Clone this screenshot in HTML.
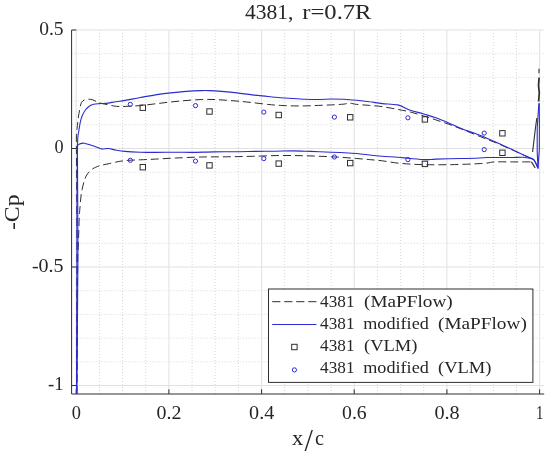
<!DOCTYPE html>
<html><head><meta charset="utf-8"><title>4381, r=0.7R</title>
<style>html,body{margin:0;padding:0;background:#fff}svg{display:block}text{font-family:"Liberation Serif",serif;fill:#262626}</style></head><body>
<svg width="550" height="454" viewBox="0 0 550 454">
<rect width="550" height="454" fill="#fff"/>
<g stroke="#d6d6d6" stroke-width="1" stroke-dasharray="1 2" fill="none">
<path d="M99.4 30.0V394.0"/>
<path d="M122.5 30.0V394.0"/>
<path d="M145.7 30.0V394.0"/>
<path d="M192.1 30.0V394.0"/>
<path d="M215.2 30.0V394.0"/>
<path d="M238.4 30.0V394.0"/>
<path d="M284.7 30.0V394.0"/>
<path d="M307.9 30.0V394.0"/>
<path d="M331.1 30.0V394.0"/>
<path d="M377.4 30.0V394.0"/>
<path d="M400.6 30.0V394.0"/>
<path d="M423.7 30.0V394.0"/>
<path d="M470.1 30.0V394.0"/>
<path d="M493.3 30.0V394.0"/>
<path d="M516.4 30.0V394.0"/>
<path d="M71.6 361.8H544.2"/>
<path d="M71.6 338.1H544.2"/>
<path d="M71.6 314.4H544.2"/>
<path d="M71.6 290.7H544.2"/>
<path d="M71.6 243.3H544.2"/>
<path d="M71.6 219.6H544.2"/>
<path d="M71.6 195.9H544.2"/>
<path d="M71.6 172.2H544.2"/>
<path d="M71.6 124.8H544.2"/>
<path d="M71.6 101.1H544.2"/>
<path d="M71.6 77.4H544.2"/>
<path d="M71.6 53.7H544.2"/>
</g>
<g stroke="#e1e1e1" stroke-width="1" fill="none">
<path d="M76.2 30.0V394.0"/>
<path d="M168.9 30.0V394.0"/>
<path d="M261.6 30.0V394.0"/>
<path d="M354.2 30.0V394.0"/>
<path d="M446.9 30.0V394.0"/>
<path d="M539.6 30.0V394.0"/>
<path d="M71.6 30.0H544.2"/>
<path d="M71.6 148.5H544.2"/>
<path d="M71.6 267.0H544.2"/>
<path d="M71.6 385.5H544.2"/>
</g>
<g stroke="#2e2e2e" stroke-width="1" fill="none">
<path d="M71.6 30.0V394.0H544.2"/>
<path d="M76.2 394.0v-4.7"/>
<path d="M168.9 394.0v-4.7"/>
<path d="M261.6 394.0v-4.7"/>
<path d="M354.2 394.0v-4.7"/>
<path d="M446.9 394.0v-4.7"/>
<path d="M539.6 394.0v-4.7"/>
<path d="M71.6 30.0h4.7"/>
<path d="M71.6 148.5h4.7"/>
<path d="M71.6 267.0h4.7"/>
<path d="M71.6 385.5h4.7"/>
</g>
<g fill="none" stroke-linejoin="round">
<path d="M76.7 394.0 C76.7 378.3 76.9 324.0 76.9 300.0 C77.0 276.0 77.0 266.7 77.0 250.0 C77.0 233.3 76.9 218.7 76.8 200.0 C76.7 181.3 76.4 149.9 76.4 138.0 C76.5 126.1 76.8 132.0 77.1 128.5 C77.4 125.0 77.9 120.5 78.4 117.0 C78.9 113.5 79.6 110.0 80.1 107.5 C80.6 105.0 80.8 103.6 81.6 102.3 C82.4 101.0 83.6 100.3 84.8 99.8 C86.0 99.3 87.3 99.2 88.6 99.2 C89.9 99.2 91.1 99.4 92.5 99.8 C93.9 100.2 95.3 101.1 96.9 101.7 C98.5 102.3 100.3 103.1 102.0 103.6 C103.7 104.1 105.2 104.1 107.1 104.5 C109.0 104.9 111.4 105.6 113.5 105.9 C115.6 106.2 117.3 106.5 119.9 106.6 C122.5 106.6 125.5 106.4 128.9 106.2 C132.3 106.0 135.9 106.0 140.3 105.6 C144.7 105.2 150.4 104.4 155.5 103.8 C160.6 103.2 165.7 102.5 170.8 102.0 C175.9 101.5 180.9 100.9 186.0 100.5 C191.1 100.1 196.6 99.7 201.3 99.5 C206.0 99.3 209.8 99.4 214.0 99.5 C218.2 99.6 222.6 100.0 226.8 100.3 C231.1 100.6 235.3 100.9 239.5 101.3 C243.7 101.7 247.5 102.1 252.2 102.6 C256.9 103.1 263.0 103.9 267.7 104.4 C272.4 104.9 276.1 105.2 280.4 105.4 C284.6 105.7 288.9 105.8 293.2 105.9 C297.4 106.0 301.7 106.0 305.9 105.9 C310.1 105.8 314.4 105.6 318.6 105.4 C322.8 105.2 327.1 105.1 331.3 104.9 C335.5 104.7 341.0 104.4 344.0 104.1 C347.0 103.8 347.0 103.0 349.1 103.1 C351.2 103.1 353.4 104.0 356.8 104.4 C360.2 104.8 365.3 105.0 369.5 105.4 C373.7 105.8 377.5 105.9 382.2 106.6 C386.9 107.3 393.0 108.5 397.7 109.4 C402.4 110.3 406.1 110.9 410.4 112.0 C414.6 113.1 418.9 114.5 423.2 115.8 C427.4 117.1 431.7 118.5 435.9 119.9 C440.1 121.3 444.4 122.7 448.6 124.2 C452.8 125.7 457.1 127.3 461.3 129.0 C465.5 130.7 469.8 132.4 474.0 134.1 C478.2 135.8 482.6 137.5 486.8 139.2 C491.1 140.9 495.3 142.5 499.5 144.3 C503.7 146.1 508.3 148.2 512.2 149.9 C516.1 151.7 519.9 153.4 523.0 154.8 C526.1 156.2 529.7 157.7 531.0 158.3" stroke="#2e2e2e" stroke-width="1" stroke-dasharray="8 4"/>
<path d="M76.9 394.0 C77.0 378.3 77.3 322.3 77.4 300.0 C77.5 277.7 77.6 269.2 77.7 260.0 C77.8 250.8 78.1 249.8 78.3 245.0 C78.5 240.2 78.6 235.7 78.8 231.0 C79.0 226.3 79.1 220.4 79.3 217.0 C79.5 213.6 79.5 212.9 79.7 210.7 C79.9 208.5 80.1 206.0 80.3 203.6 C80.5 201.2 80.7 198.4 81.0 196.0 C81.3 193.6 81.7 191.7 82.2 189.2 C82.7 186.7 83.4 183.6 84.2 181.1 C85.0 178.6 85.9 176.1 87.3 174.1 C88.7 172.1 90.5 170.4 92.5 169.0 C94.5 167.6 96.6 166.7 99.5 165.8 C102.4 164.9 106.3 164.2 109.7 163.5 C113.1 162.8 116.7 161.8 119.9 161.3 C123.1 160.8 125.5 160.6 128.9 160.3 C132.3 160.1 135.9 160.0 140.3 159.8 C144.7 159.6 149.6 159.4 155.5 159.1 C161.4 158.8 168.3 158.3 175.9 158.0 C183.5 157.7 192.8 157.2 201.3 157.0 C209.8 156.8 218.3 156.9 226.8 156.8 C235.3 156.7 243.3 156.5 252.2 156.3 C261.1 156.1 271.4 155.6 280.4 155.5 C289.3 155.4 297.4 155.6 305.9 155.8 C314.4 156.0 324.9 156.5 331.3 156.8 C337.7 157.1 339.8 157.2 344.0 157.5 C348.2 157.8 352.6 158.2 356.8 158.5 C361.1 158.8 365.3 159.2 369.5 159.6 C373.7 160.0 377.5 160.2 382.2 160.8 C386.9 161.4 393.0 162.6 397.7 163.1 C402.4 163.6 405.7 163.8 410.4 164.1 C415.1 164.4 419.3 164.6 425.7 164.7 C432.1 164.8 440.6 164.8 448.6 164.7 C456.7 164.6 467.6 164.2 474.0 163.9 C480.4 163.6 483.4 163.4 486.8 163.1 C490.2 162.8 490.2 162.1 494.4 161.9 C498.6 161.7 506.1 161.9 512.2 161.9 C518.4 161.9 528.1 161.9 531.3 161.9" stroke="#2e2e2e" stroke-width="1" stroke-dasharray="8 4"/>
<path d="M531.3 161.9L532.4 163.4L535.2 168M532.6 152L535.2 130L536.8 118M539 73.2V68.8" stroke="#2e2e2e" stroke-width="1.1"/>
<path d="M538.6 101.5L539.3 93L538.5 85.5L539.1 77.6" stroke="#2e2e2e" stroke-width="1.7"/>
<path d="M76.5 394.0 C76.5 385.0 76.7 355.7 76.7 340.0 C76.8 324.3 76.8 315.0 76.8 300.0 C76.8 285.0 76.9 266.7 76.9 250.0 C76.9 233.3 76.9 215.0 77.0 200.0 C77.1 185.0 77.2 170.3 77.3 160.0 C77.4 149.7 77.5 142.8 77.8 138.0 C78.0 133.2 78.4 133.8 78.8 131.1 C79.2 128.4 79.7 124.6 80.3 122.1 C80.9 119.5 81.3 117.8 82.2 115.8 C83.1 113.8 84.2 111.6 85.4 110.0 C86.6 108.4 87.9 107.2 89.3 106.2 C90.7 105.2 92.0 104.7 93.7 104.3 C95.4 103.9 97.5 103.8 99.5 103.6 C101.5 103.4 103.1 103.7 105.9 103.4 C108.7 103.1 112.9 102.2 116.1 101.7 C119.3 101.2 121.0 101.1 125.0 100.4 C129.0 99.7 135.2 98.4 140.3 97.5 C145.4 96.6 150.4 95.7 155.5 94.9 C160.6 94.1 165.7 93.5 170.8 92.9 C175.9 92.3 181.0 91.8 186.1 91.4 C191.2 91.0 197.5 90.7 201.3 90.6 C205.1 90.5 205.6 90.5 209.0 90.6 C212.4 90.7 217.0 91.0 221.7 91.4 C226.4 91.8 231.9 92.3 237.0 92.9 C242.1 93.5 247.1 94.3 252.2 94.9 C257.3 95.5 263.0 96.0 267.7 96.5 C272.4 97.0 276.1 97.4 280.4 97.7 C284.6 98.0 288.9 98.2 293.2 98.5 C297.4 98.8 301.7 99.1 305.9 99.3 C310.1 99.5 314.4 99.5 318.6 99.5 C322.8 99.5 327.1 99.0 331.3 99.0 C335.5 99.0 339.8 99.1 344.0 99.3 C348.2 99.5 352.6 99.9 356.8 100.3 C361.1 100.7 365.3 101.2 369.5 101.8 C373.7 102.3 377.5 103.1 382.2 103.6 C386.9 104.1 393.0 103.8 397.7 104.9 C402.4 106.0 406.1 108.7 410.4 110.2 C414.6 111.7 418.9 112.5 423.2 113.8 C427.4 115.1 431.7 116.3 435.9 117.8 C440.1 119.3 444.4 121.1 448.6 122.9 C452.8 124.7 457.1 126.8 461.3 128.5 C465.5 130.2 469.8 131.5 474.0 133.1 C478.2 134.7 482.6 136.4 486.8 138.2 C491.1 140.0 495.3 141.9 499.5 143.8 C503.7 145.7 508.3 147.8 512.2 149.6 C516.1 151.4 519.9 153.4 523.0 154.8 C526.1 156.2 528.9 157.3 530.7 158.1 C532.5 158.9 533.5 159.4 534.0 159.7" stroke="#2b2bd0" stroke-width="1.1"/>
<path d="M534.0 159.7 L535.7 163.0 L537.9 168.0 L539.3 150.0 L539.4 120.0 L539.2 103.3" stroke="#2b2bd0" stroke-width="1.1"/>
<path d="M76.9 394.0 C77.0 385.0 77.2 355.7 77.3 340.0 C77.4 324.3 77.5 315.0 77.6 300.0 C77.7 285.0 77.9 266.7 77.9 250.0 C77.9 233.3 77.8 215.0 77.7 200.0 C77.6 185.0 77.5 168.9 77.5 160.0 C77.5 151.1 77.0 149.3 77.4 146.6 C77.8 143.9 78.6 144.6 79.7 144.0 C80.8 143.4 82.4 143.0 84.2 143.2 C86.0 143.4 88.4 144.4 90.5 145.1 C92.6 145.8 95.0 146.6 96.9 147.2 C98.8 147.8 100.1 148.7 102.0 148.9 C103.9 149.1 106.1 148.3 108.4 148.5 C110.8 148.7 113.3 149.7 116.1 150.2 C118.9 150.7 121.0 151.1 125.0 151.4 C129.0 151.7 135.2 152.0 140.3 152.2 C145.4 152.4 149.6 152.4 155.5 152.4 C161.4 152.4 170.0 152.2 175.9 152.2 C181.8 152.2 184.8 152.4 191.2 152.4 C197.5 152.4 205.9 152.0 214.0 151.9 C222.1 151.8 232.7 151.8 239.5 151.7 C246.3 151.6 249.0 151.5 255.0 151.4 C261.0 151.3 269.0 151.3 275.4 151.2 C281.8 151.1 287.3 150.9 293.2 150.9 C299.1 150.9 304.6 151.2 311.0 151.4 C317.4 151.6 325.8 152.0 331.3 152.2 C336.8 152.4 339.8 152.5 344.0 152.7 C348.2 152.9 352.6 153.1 356.8 153.5 C361.1 153.9 365.3 154.5 369.5 155.0 C373.7 155.5 377.5 155.9 382.2 156.3 C386.9 156.7 393.0 156.9 397.7 157.3 C402.4 157.7 405.7 158.1 410.4 158.5 C415.1 158.9 421.4 159.5 425.7 159.6 C429.9 159.7 430.0 159.3 435.9 159.1 C441.8 158.9 454.9 158.6 461.3 158.5 C467.7 158.4 469.8 158.5 474.0 158.3 C478.2 158.1 482.3 157.6 486.8 157.5 C491.3 157.4 496.8 157.5 501.0 157.5 C505.2 157.5 508.3 157.5 512.0 157.5 C515.7 157.5 519.9 157.2 523.0 157.3 C526.1 157.5 528.9 158.0 530.7 158.4 C532.5 158.8 533.5 159.7 534.0 160.0" stroke="#2b2bd0" stroke-width="1.1"/>
<path d="M534.0 160.0 L536.3 164.1 L538.1 168.3 L537.2 152.0 L537.2 128.0 L538.9 103.3" stroke="#2b2bd0" stroke-width="1.1"/>
</g>
<g fill="none" stroke="#2e2e2e" stroke-width="1">
<rect x="140.1" y="105.0" width="5.4" height="5.4"/>
<rect x="206.8" y="108.8" width="5.4" height="5.4"/>
<rect x="276.0" y="112.3" width="5.4" height="5.4"/>
<rect x="347.5" y="114.6" width="5.4" height="5.4"/>
<rect x="422.2" y="116.7" width="5.4" height="5.4"/>
<rect x="499.7" y="130.6" width="5.4" height="5.4"/>
<rect x="140.1" y="164.5" width="5.4" height="5.4"/>
<rect x="206.8" y="162.7" width="5.4" height="5.4"/>
<rect x="276.0" y="160.9" width="5.4" height="5.4"/>
<rect x="347.5" y="160.4" width="5.4" height="5.4"/>
<rect x="422.2" y="161.2" width="5.4" height="5.4"/>
<rect x="499.7" y="150.1" width="5.4" height="5.4"/>
</g>
<g fill="none" stroke="#2b2bd0" stroke-width="1">
<circle cx="130.3" cy="104.4" r="2.1"/>
<circle cx="195.5" cy="105.6" r="2.1"/>
<circle cx="263.8" cy="112.1" r="2.1"/>
<circle cx="334.4" cy="117.1" r="2.1"/>
<circle cx="407.9" cy="117.8" r="2.1"/>
<circle cx="484.2" cy="133.1" r="2.1"/>
<circle cx="130.3" cy="160.3" r="2.1"/>
<circle cx="195.5" cy="161.1" r="2.1"/>
<circle cx="263.8" cy="158.6" r="2.1"/>
<circle cx="334.4" cy="157.0" r="2.1"/>
<circle cx="407.9" cy="159.6" r="2.1"/>
<circle cx="484.2" cy="149.6" r="2.1"/>
</g>
<text y="34.6" font-size="19.4"><tspan x="39.2" textLength="24.4" lengthAdjust="spacingAndGlyphs">0.5</tspan></text>
<text y="153.1" font-size="19.4"><tspan x="54.5" textLength="9.1" lengthAdjust="spacingAndGlyphs">0</tspan></text>
<text y="271.6" font-size="19.4"><tspan x="31.9" textLength="31.7" lengthAdjust="spacingAndGlyphs">-0.5</tspan></text>
<text y="390.1" font-size="19.4"><tspan x="48.0" textLength="15.6" lengthAdjust="spacingAndGlyphs">-1</tspan></text>
<text y="418.6" font-size="19.4"><tspan x="71.7" textLength="9.2" lengthAdjust="spacingAndGlyphs">0</tspan></text>
<text y="418.6" font-size="19.4"><tspan x="156.5" textLength="24.9" lengthAdjust="spacingAndGlyphs">0.2</tspan></text>
<text y="418.6" font-size="19.4"><tspan x="249.1" textLength="25.2" lengthAdjust="spacingAndGlyphs">0.4</tspan></text>
<text y="418.6" font-size="19.4"><tspan x="342.0" textLength="24.7" lengthAdjust="spacingAndGlyphs">0.6</tspan></text>
<text y="418.6" font-size="19.4"><tspan x="434.4" textLength="25.3" lengthAdjust="spacingAndGlyphs">0.8</tspan></text>
<text y="418.6" font-size="19.4"><tspan x="536.0" textLength="7.4" lengthAdjust="spacingAndGlyphs">1</tspan></text>
<text y="445.2" font-size="20"><tspan x="291.9" textLength="11.2" lengthAdjust="spacingAndGlyphs">x</tspan><tspan x="304.6" dy="5.4" font-size="31" textLength="8.4" lengthAdjust="spacingAndGlyphs">/</tspan><tspan x="315.0" dy="-5.4" textLength="9.0" lengthAdjust="spacingAndGlyphs">c</tspan></text>
<text transform="translate(18.8,230.1) rotate(-90)" font-size="20.9" textLength="35.6" lengthAdjust="spacingAndGlyphs">-Cp</text>
<text y="19.1" font-size="21.5"><tspan x="245.0" textLength="48.4" lengthAdjust="spacingAndGlyphs">4381,</tspan> <tspan x="302.3" textLength="69.2" lengthAdjust="spacingAndGlyphs">r=0.7R</tspan></text>
<rect x="268.5" y="289" width="264.4" height="93.4" fill="#fff" stroke="#2e2e2e" stroke-width="1"/>
<path d="M272.2 301.7H316.4" stroke="#2e2e2e" stroke-width="1" stroke-dasharray="8.2 3.8" fill="none"/>
<path d="M272.2 324.5H316.4" stroke="#2b2bd0" stroke-width="1.1" fill="none"/>
<rect x="291.7" y="344.3" width="5.4" height="5.4" fill="none" stroke="#2e2e2e" stroke-width="1"/>
<circle cx="294.4" cy="369.9" r="2.1" fill="none" stroke="#2b2bd0" stroke-width="1"/>
<text y="306.9" font-size="17.2"><tspan x="320.1" textLength="34.4" lengthAdjust="spacingAndGlyphs">4381</tspan> <tspan x="364.0" textLength="88.7" lengthAdjust="spacingAndGlyphs">(MaPFlow)</tspan></text>
<text y="329.0" font-size="17.2"><tspan x="320.1" textLength="34.4" lengthAdjust="spacingAndGlyphs">4381</tspan> <tspan x="363.2" textLength="65.6" lengthAdjust="spacingAndGlyphs">modified</tspan> <tspan x="438.0" textLength="88.8" lengthAdjust="spacingAndGlyphs">(MaPFlow)</tspan></text>
<text y="351.1" font-size="17.2"><tspan x="320.1" textLength="34.4" lengthAdjust="spacingAndGlyphs">4381</tspan> <tspan x="364.0" textLength="53.5" lengthAdjust="spacingAndGlyphs">(VLM)</tspan></text>
<text y="373.2" font-size="17.2"><tspan x="320.1" textLength="34.4" lengthAdjust="spacingAndGlyphs">4381</tspan> <tspan x="363.2" textLength="65.6" lengthAdjust="spacingAndGlyphs">modified</tspan> <tspan x="438.0" textLength="53.5" lengthAdjust="spacingAndGlyphs">(VLM)</tspan></text>
</svg></body></html>
